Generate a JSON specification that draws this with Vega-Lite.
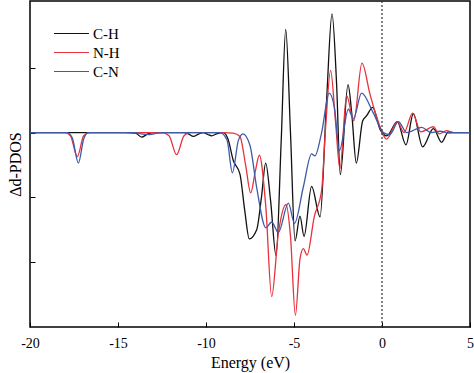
{
  "$schema": "https://vega.github.io/schema/vega-lite/v6.json",
  "width": 440,
  "height": 326,
  "autosize": "none",
  "padding": {"left": 30, "top": 1, "right": 4, "bottom": 46},
  "background": "white",
  "config": {
    "view": {"stroke": "black", "strokeWidth": 1.5},
    "font": "Times New Roman, Liberation Serif, serif"
  },
  "datasets": {
    "pdos": [
      {"s":"C-H","x":-20,"y":0},{"s":"C-H","x":-14.6,"y":0},{"s":"C-H","x":-14.0,"y":-0.01},{"s":"C-H","x":-13.66,"y":-0.07},{"s":"C-H","x":-13.3,"y":-0.02},{"s":"C-H","x":-13.0,"y":0},{"s":"C-H","x":-11.3,"y":0},{"s":"C-H","x":-11.0,"y":-0.02},{"s":"C-H","x":-10.72,"y":-0.06},{"s":"C-H","x":-10.4,"y":-0.02},{"s":"C-H","x":-10.15,"y":0},{"s":"C-H","x":-9.9,"y":-0.03},{"s":"C-H","x":-9.68,"y":-0.05},{"s":"C-H","x":-9.4,"y":-0.02},{"s":"C-H","x":-9.0,"y":0},{"s":"C-H","x":-8.75,"y":-0.1},{"s":"C-H","x":-8.45,"y":-0.43},{"s":"C-H","x":-8.07,"y":-0.64},{"s":"C-H","x":-7.8,"y":-1.2},{"s":"C-H","x":-7.54,"y":-1.64},{"s":"C-H","x":-7.12,"y":-1.5},{"s":"C-H","x":-6.85,"y":-1.0},{"s":"C-H","x":-6.61,"y":-0.47},{"s":"C-H","x":-6.33,"y":-1.05},{"s":"C-H","x":-6.02,"y":-1.9},{"s":"C-H","x":-5.73,"y":-0.15},{"s":"C-H","x":-5.47,"y":1.59},{"s":"C-H","x":-5.2,"y":0.0},{"s":"C-H","x":-4.94,"y":-1.67},{"s":"C-H","x":-4.66,"y":-1.29},{"s":"C-H","x":-4.43,"y":-1.6},{"s":"C-H","x":-4.0,"y":-0.83},{"s":"C-H","x":-3.52,"y":-1.3},{"s":"C-H","x":-3.15,"y":0.49},{"s":"C-H","x":-2.84,"y":1.83},{"s":"C-H","x":-2.58,"y":0.75},{"s":"C-H","x":-2.37,"y":-0.65},{"s":"C-H","x":-1.93,"y":0.74},{"s":"C-H","x":-1.72,"y":0.3},{"s":"C-H","x":-1.46,"y":-0.47},{"s":"C-H","x":-1.1,"y":0.18},{"s":"C-H","x":-0.87,"y":0.26},{"s":"C-H","x":-0.53,"y":0.39},{"s":"C-H","x":-0.11,"y":0.05},{"s":"C-H","x":0.27,"y":-0.05},{"s":"C-H","x":0.87,"y":0.17},{"s":"C-H","x":1.36,"y":-0.19},{"s":"C-H","x":1.78,"y":0.29},{"s":"C-H","x":2.31,"y":-0.22},{"s":"C-H","x":2.92,"y":0.06},{"s":"C-H","x":3.39,"y":-0.15},{"s":"C-H","x":3.77,"y":0.01},{"s":"C-H","x":4.05,"y":0},{"s":"C-H","x":5,"y":0},

      {"s":"N-H","x":-20,"y":0},{"s":"N-H","x":-18.0,"y":0},{"s":"N-H","x":-17.7,"y":-0.05},{"s":"N-H","x":-17.31,"y":-0.37},{"s":"N-H","x":-16.95,"y":-0.05},{"s":"N-H","x":-16.6,"y":0},{"s":"N-H","x":-12.5,"y":0},{"s":"N-H","x":-12.1,"y":-0.05},{"s":"N-H","x":-11.67,"y":-0.34},{"s":"N-H","x":-11.25,"y":-0.05},{"s":"N-H","x":-10.9,"y":0},{"s":"N-H","x":-9.0,"y":0},{"s":"N-H","x":-8.45,"y":-0.01},{"s":"N-H","x":-8.07,"y":-0.06},{"s":"N-H","x":-7.75,"y":-0.5},{"s":"N-H","x":-7.46,"y":-0.93},{"s":"N-H","x":-7.2,"y":-0.6},{"s":"N-H","x":-6.97,"y":-0.35},{"s":"N-H","x":-6.6,"y":-1.15},{"s":"N-H","x":-6.27,"y":-2.53},{"s":"N-H","x":-5.89,"y":-1.56},{"s":"N-H","x":-5.45,"y":-1.11},{"s":"N-H","x":-5.2,"y":-1.6},{"s":"N-H","x":-4.92,"y":-2.82},{"s":"N-H","x":-4.66,"y":-1.95},{"s":"N-H","x":-4.47,"y":-1.79},{"s":"N-H","x":-4.26,"y":-1.89},{"s":"N-H","x":-3.85,"y":-1.3},{"s":"N-H","x":-3.43,"y":-0.89},{"s":"N-H","x":-3.2,"y":0.1},{"s":"N-H","x":-2.92,"y":0.96},{"s":"N-H","x":-2.65,"y":0.2},{"s":"N-H","x":-2.39,"y":-0.56},{"s":"N-H","x":-2.01,"y":0.57},{"s":"N-H","x":-1.6,"y":0.18},{"s":"N-H","x":-1.14,"y":1.07},{"s":"N-H","x":-0.68,"y":0.59},{"s":"N-H","x":-0.3,"y":0.24},{"s":"N-H","x":0.27,"y":-0.1},{"s":"N-H","x":0.87,"y":0.17},{"s":"N-H","x":1.25,"y":0.0},{"s":"N-H","x":1.74,"y":0.3},{"s":"N-H","x":2.2,"y":0.01},{"s":"N-H","x":2.92,"y":0.09},{"s":"N-H","x":3.25,"y":-0.02},{"s":"N-H","x":3.67,"y":0.03},{"s":"N-H","x":4.05,"y":0},{"s":"N-H","x":5,"y":0},

      {"s":"C-N","x":-20,"y":0},{"s":"C-N","x":-17.9,"y":0},{"s":"C-N","x":-17.6,"y":-0.08},{"s":"C-N","x":-17.25,"y":-0.47},{"s":"C-N","x":-16.95,"y":-0.1},{"s":"C-N","x":-16.7,"y":0},{"s":"C-N","x":-14.0,"y":0},{"s":"C-N","x":-13.7,"y":-0.02},{"s":"C-N","x":-13.2,"y":-0.03},{"s":"C-N","x":-12.8,"y":-0.01},{"s":"C-N","x":-12.4,"y":0},{"s":"C-N","x":-9.2,"y":0},{"s":"C-N","x":-8.8,"y":-0.12},{"s":"C-N","x":-8.5,"y":-0.62},{"s":"C-N","x":-8.16,"y":-0.12},{"s":"C-N","x":-7.9,"y":-0.02},{"s":"C-N","x":-7.5,"y":-0.2},{"s":"C-N","x":-7.12,"y":-0.85},{"s":"C-N","x":-6.6,"y":-1.47},{"s":"C-N","x":-6.27,"y":-1.38},{"s":"C-N","x":-5.89,"y":-1.54},{"s":"C-N","x":-5.32,"y":-1.09},{"s":"C-N","x":-4.97,"y":-1.4},{"s":"C-N","x":-4.47,"y":-0.84},{"s":"C-N","x":-4.0,"y":-0.33},{"s":"C-N","x":-3.81,"y":-0.36},{"s":"C-N","x":-3.43,"y":0.0},{"s":"C-N","x":-3.0,"y":0.61},{"s":"C-N","x":-2.7,"y":0.38},{"s":"C-N","x":-2.42,"y":-0.28},{"s":"C-N","x":-1.91,"y":0.36},{"s":"C-N","x":-1.63,"y":0.21},{"s":"C-N","x":-1.16,"y":0.61},{"s":"C-N","x":-0.49,"y":0.3},{"s":"C-N","x":0.08,"y":0.0},{"s":"C-N","x":0.45,"y":-0.03},{"s":"C-N","x":0.93,"y":0.17},{"s":"C-N","x":1.4,"y":0.0},{"s":"C-N","x":2.25,"y":0.08},{"s":"C-N","x":2.8,"y":0.0},{"s":"C-N","x":3.3,"y":0.02},{"s":"C-N","x":3.8,"y":-0.01},{"s":"C-N","x":4.05,"y":0},{"s":"C-N","x":5,"y":0}
    ],
    "fermi": [{"x": 0}]
  },
  "layer": [
    {
      "data": {"name": "pdos"},
      "mark": {"type": "line", "interpolate": "monotone", "strokeWidth": 1.3, "clip": true},
      "encoding": {
        "x": {
          "field": "x", "type": "quantitative",
          "scale": {"domain": [-20, 5], "nice": false, "zero": false},
          "axis": {
            "title": "Energy (eV)", "values": [-20, -15, -10, -5, 0, 5],
            "labelExpr": "replace(datum.label, '\u2212', '-')",
            "grid": false, "domain": false, "tickSize": -5, "tickColor": "black", "tickWidth": 1,
            "labelFontSize": 14, "labelColor": "black", "labelPadding": 14,
            "labelFont": "Times New Roman, Liberation Serif, serif", "labelFlush": false, "labelOverlap": false,
            "titleFontSize": 16, "titleFontWeight": "normal", "titleColor": "black",
            "titleFont": "Times New Roman, Liberation Serif, serif", "titlePadding": 4
          }
        },
        "y": {
          "field": "y", "type": "quantitative",
          "scale": {"domain": [-3, 2.03], "nice": false, "zero": false},
          "axis": {
            "title": "Δd-PDOS", "values": [-2, -1, 0, 1], "labels": false,
            "grid": false, "domain": false, "tickSize": -5, "tickColor": "black", "tickWidth": 1,
            "titleFontSize": 16, "titleFontWeight": "normal", "titleColor": "black",
            "titleFont": "Times New Roman, Liberation Serif, serif", "titlePadding": 6
          }
        },
        "color": {
          "field": "s", "type": "nominal",
          "scale": {"domain": ["C-H", "N-H", "C-N"], "range": ["#111111", "#e8323c", "#3e5aa8"]},
          "legend": {
            "title": null, "orient": "none", "legendX": 23, "legendY": 23,
            "symbolType": "stroke", "symbolSize": 1225, "symbolStrokeWidth": 1.1,
            "labelFontSize": 15, "labelFont": "Times New Roman, Liberation Serif, serif", "labelColor": "black",
            "labelOffset": 3, "clipHeight": 19, "rowPadding": 0, "padding": 0
          }
        }
      }
    },
    {
      "data": {"name": "fermi"},
      "mark": {"type": "rule", "color": "#333333", "strokeWidth": 1.2, "strokeDash": [2, 2]},
      "encoding": {"x": {"field": "x", "type": "quantitative"}}
    }
  ]
}
